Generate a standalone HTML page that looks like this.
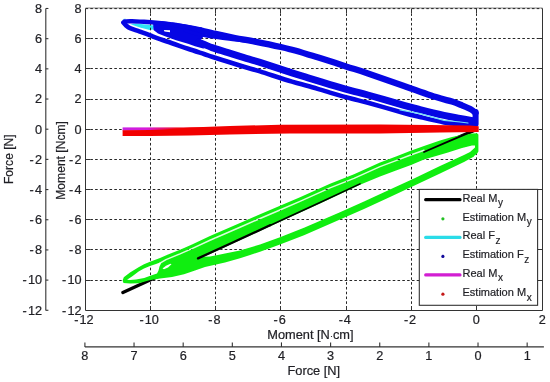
<!DOCTYPE html><html><head><meta charset="utf-8"><title>Moment and force plot</title><style>html,body{margin:0;padding:0;background:#fff;overflow:hidden}svg{display:block}</style></head><body><svg width="550" height="382" viewBox="0 0 550 382" font-family='"Liberation Sans", Arial, Helvetica, sans-serif'><rect width="550" height="382" fill="#fff"/><g stroke="#262626" stroke-width="1" stroke-dasharray="2.6,2.2" fill="none"><line x1="150.50" y1="8.5" x2="150.50" y2="310.5"/><line x1="215.50" y1="8.5" x2="215.50" y2="310.5"/><line x1="280.50" y1="8.5" x2="280.50" y2="310.5"/><line x1="346.50" y1="8.5" x2="346.50" y2="310.5"/><line x1="411.50" y1="8.5" x2="411.50" y2="310.5"/><line x1="476.50" y1="8.5" x2="476.50" y2="310.5"/><line x1="85.5" y1="280.50" x2="542.5" y2="280.50"/><line x1="85.5" y1="249.50" x2="542.5" y2="249.50"/><line x1="85.5" y1="219.50" x2="542.5" y2="219.50"/><line x1="85.5" y1="189.50" x2="542.5" y2="189.50"/><line x1="85.5" y1="159.50" x2="542.5" y2="159.50"/><line x1="85.5" y1="129.50" x2="542.5" y2="129.50"/><line x1="85.5" y1="99.50" x2="542.5" y2="99.50"/><line x1="85.5" y1="68.50" x2="542.5" y2="68.50"/><line x1="85.5" y1="38.50" x2="542.5" y2="38.50"/></g><g><polyline points="122.9,292.5 350.0,188.0 420.0,153.6 448.0,141.7 476.4,129.6" fill="none" stroke="#000" stroke-width="3.3" stroke-linejoin="round" stroke-linecap="round" /><polygon points="122.6,280.6 123.8,277.2 130.0,272.6 139.0,267.0 144.0,264.2 150.0,261.8 160.0,258.0 168.0,254.5 180.0,249.7 192.0,244.4 210.0,236.0 240.0,223.0 256.0,216.0 280.0,205.8 300.0,197.2 330.0,183.7 354.0,174.2 380.0,162.4 396.0,156.4 410.0,151.0 424.0,146.0 440.0,140.6 452.0,137.0 464.0,134.4 472.0,133.4 477.0,133.2 478.4,134.5 478.4,151.5 477.0,153.8 474.0,156.0 474.0,156.5 464.0,162.0 440.0,173.4 414.0,185.8 390.0,197.0 364.0,208.9 340.0,219.6 304.0,235.2 280.0,244.6 260.0,251.8 240.0,258.3 225.0,262.5 205.0,267.0 195.0,270.5 184.0,274.3 172.0,277.0 160.0,278.4 149.4,280.3 139.0,283.2 130.0,283.5 123.5,283.0" fill="#10ee10" /><polygon points="203.0,256.8 210.0,254.0 230.0,244.8 250.0,235.6 280.0,221.8 320.0,203.4 360.0,184.7 380.0,176.5 396.0,170.5 411.0,165.0 424.0,159.5 448.0,152.5 462.0,148.0 472.0,145.5 475.0,145.5 475.0,147.5 470.0,152.0 464.0,155.0 440.0,166.0 414.0,178.4 390.0,189.6 364.0,201.5 340.0,212.2 304.0,227.8 280.0,237.2 260.0,244.5 240.0,250.5 225.0,253.6 210.0,256.6" fill="#fff" /><polygon points="127.0,279.8 132.0,276.4 139.0,271.2 144.0,268.4 150.0,266.0 156.0,264.0 160.0,262.6 161.0,263.6 159.5,266.5 158.5,270.5 157.0,273.4 151.0,275.6 144.2,277.9 136.0,279.4 130.0,280.1" fill="#fff" /><polyline points="160.0,263.2 166.0,259.6 180.0,253.9 192.0,248.6 210.0,240.2 240.0,227.2 256.0,220.2 280.0,210.0 300.0,201.4 330.0,187.9 354.0,178.4 380.0,166.6 396.0,160.6 410.0,155.2 424.0,150.2" fill="none" stroke="#fff" stroke-width="1.5" stroke-linejoin="round" stroke-linecap="round" opacity="0.85"/><polygon points="162.5,268.5 166.0,265.8 170.5,263.8 171.5,264.2 168.0,267.5 164.0,269.2" fill="#fff" /><polyline points="198.0,258.4 230.0,243.7 270.0,225.3" fill="none" stroke="#000" stroke-width="2.3" stroke-linejoin="round" stroke-linecap="round" /><polyline points="270.0,225.6 320.0,202.6 360.0,183.9" fill="none" stroke="#000" stroke-width="1.6" stroke-linejoin="round" stroke-linecap="round" /><polyline points="424.0,152.0 448.0,141.7 476.4,129.6" fill="none" stroke="#000" stroke-width="1.8" stroke-linejoin="round" stroke-linecap="round" /><polygon points="126.5,24.4 136.5,23.4 150.0,24.2 154.5,25.0 154.5,30.5 158.5,33.4 149.6,32.6 139.8,29.2 130.0,26.0" fill="#fff" /><polygon points="130.5,24.0 136.5,23.5 150.0,25.0 154.2,25.6 153.2,29.6 149.6,29.9 140.0,27.6 134.0,25.6" fill="#2ee6f6" /><polygon points="122.4,20.6 123.8,18.8 125.8,18.6 124.4,21.2" fill="#2ee6f6" opacity="0.55"/><polygon points="153.0,21.2 160.7,20.9 170.0,22.3 185.0,24.2 195.0,26.0 202.0,27.6 203.0,37.5 199.5,40.2 204.0,48.8 195.0,46.2 188.0,43.8 176.0,40.2 165.0,36.2 158.0,33.4 153.5,30.0" fill="#0606e4" /><path d="M124.5,21.4 C125.8,21.4 128.8,21.2 132.0,21.3 C135.2,21.4 140.0,21.6 144.0,21.8 C148.0,22.0 151.7,22.2 156.0,22.6 C160.3,23.0 165.2,23.5 170.0,24.2 C174.8,24.9 180.0,25.6 185.0,26.6 C190.0,27.6 197.5,29.4 200.0,30.0" fill="none" stroke="#0606e4" stroke-width="4.4" stroke-linejoin="round" stroke-linecap="round" /><path d="M200.0,30.2 C202.6,30.8 209.8,32.6 215.6,33.9 C221.4,35.2 228.4,36.7 235.0,38.0 C241.6,39.3 247.4,40.1 255.0,41.6 C262.6,43.1 274.6,45.6 280.8,47.0 C287.0,48.4 287.5,48.6 292.0,49.8 C296.5,51.0 303.3,53.0 308.0,54.4 C312.7,55.8 313.7,56.0 320.0,58.0 C326.3,60.0 338.0,63.8 346.0,66.4 C354.0,69.0 358.3,70.1 368.0,73.4 C377.7,76.7 392.7,82.0 404.0,86.0 C415.3,90.0 428.0,94.5 436.0,97.1 C444.0,99.7 447.7,100.2 452.0,101.6 C456.3,103.0 458.8,104.1 462.0,105.4 C465.2,106.7 468.8,108.1 471.0,109.4 C473.2,110.7 474.8,112.4 475.5,113.0" fill="none" stroke="#0606e4" stroke-width="6.3" stroke-linejoin="round" stroke-linecap="round" /><path d="M185.0,30.5 C187.5,31.2 194.9,33.5 200.0,34.6 C205.1,35.8 209.8,36.5 215.6,37.4 C221.4,38.3 229.3,39.1 235.0,39.8 C240.7,40.5 245.5,41.0 250.0,41.6 C254.5,42.2 260.0,43.1 262.0,43.4" fill="none" stroke="#0606e4" stroke-width="3.2" stroke-linejoin="round" stroke-linecap="round" /><path d="M199.0,42.2 C201.2,43.1 207.2,45.9 212.0,47.6 C216.8,49.3 222.7,50.9 228.0,52.6 C233.3,54.3 238.7,56.0 244.0,57.6 C249.3,59.2 252.0,59.9 260.0,62.4 C268.0,64.9 284.0,70.2 292.0,72.8 C300.0,75.4 301.7,75.8 308.0,77.8 C314.3,79.8 322.7,82.4 330.0,84.6 C337.3,86.8 345.7,89.1 352.0,90.8 C358.3,92.5 359.3,92.6 368.0,95.0 C376.7,97.4 395.3,103.0 404.0,105.4 C412.7,107.8 413.3,107.9 420.0,109.6 C426.7,111.3 437.3,113.9 444.0,115.4 C450.7,116.9 455.0,117.5 460.0,118.4 C465.0,119.3 471.7,120.6 474.0,121.0" fill="none" stroke="#0606e4" stroke-width="7.0" stroke-linejoin="round" stroke-linecap="round" /><path d="M123.4,22.6 C123.8,23.1 124.9,24.5 126.0,25.4 C127.1,26.3 127.7,27.2 130.0,28.2 C132.3,29.2 136.5,30.4 139.8,31.6 C143.1,32.8 146.2,33.9 149.6,35.2 C153.0,36.5 156.3,37.9 160.0,39.2 C163.7,40.5 167.3,41.6 172.0,43.2 C176.7,44.8 182.7,47.0 188.0,48.8 C193.3,50.6 200.0,52.7 204.0,54.0 C208.0,55.3 208.0,55.4 212.0,56.7 C216.0,58.0 222.7,60.1 228.0,61.8 C233.3,63.5 238.7,65.2 244.0,66.8 C249.3,68.4 252.0,68.9 260.0,71.4 C268.0,73.9 284.0,79.2 292.0,81.6 C300.0,84.0 301.7,84.2 308.0,86.0 C314.3,87.8 322.7,90.5 330.0,92.6 C337.3,94.7 345.7,97.1 352.0,98.8 C358.3,100.5 359.3,100.4 368.0,102.8 C376.7,105.2 395.3,110.6 404.0,113.0 C412.7,115.4 413.3,115.4 420.0,117.0 C426.7,118.6 437.3,121.2 444.0,122.4 C450.7,123.6 455.0,123.7 460.0,124.0 C465.0,124.3 471.7,124.3 474.0,124.4" fill="none" stroke="#0606e4" stroke-width="4.6" stroke-linejoin="round" stroke-linecap="round" /><polyline points="475.6,112.0 475.6,124.0" fill="none" stroke="#0606e4" stroke-width="6.0" stroke-linejoin="round" stroke-linecap="round" /><polygon points="163.8,30.0 170.0,30.2 170.0,32.2 164.5,31.6" fill="#fff" /><polyline points="400.0,109.8 420.0,113.6 444.0,120.4 460.0,122.0 468.0,123.0" fill="none" stroke="#6fdcf8" stroke-width="1.2" stroke-linejoin="round" stroke-linecap="round" /><defs><linearGradient id="mg" gradientUnits="userSpaceOnUse" x1="122.6" y1="0" x2="176" y2="0"><stop offset="0" stop-color="#c820e4"/><stop offset="0.45" stop-color="#d81ad8"/><stop offset="1" stop-color="#f0102a"/></linearGradient></defs><rect x="122.6" y="127.4" width="353.8" height="3.2" fill="url(#mg)"/><polygon points="122.6,130.2 150.0,130.0 164.0,129.5 190.0,127.6 230.0,126.0 280.0,124.7 380.0,124.6 430.0,125.0 470.0,125.6 478.7,126.2 478.7,132.0 440.0,132.6 380.0,133.4 290.0,133.6 230.0,134.4 190.0,135.4 150.0,136.0 122.6,136.0" fill="#f20000" /></g><defs><mask id="wm" maskUnits="userSpaceOnUse" x="0" y="0" width="550" height="382"><polygon points="203.0,256.8 210.0,254.0 230.0,244.8 250.0,235.6 280.0,221.8 320.0,203.4 360.0,184.7 380.0,176.5 396.0,170.5 411.0,165.0 424.0,159.5 448.0,152.5 462.0,148.0 472.0,145.5 475.0,145.5 475.0,147.5 470.0,152.0 464.0,155.0 440.0,166.0 414.0,178.4 390.0,189.6 364.0,201.5 340.0,212.2 304.0,227.8 280.0,237.2 260.0,244.5 240.0,250.5 225.0,253.6 210.0,256.6" fill="#fff" /><polygon points="127.0,279.8 132.0,276.4 139.0,271.2 144.0,268.4 150.0,266.0 156.0,264.0 160.0,262.6 161.0,263.6 159.5,266.5 158.5,270.5 157.0,273.4 151.0,275.6 144.2,277.9 136.0,279.4 130.0,280.1" fill="#fff" /><polyline points="160.0,263.2 166.0,259.6 180.0,253.9 192.0,248.6 210.0,240.2 240.0,227.2 256.0,220.2 280.0,210.0 300.0,201.4 330.0,187.9 354.0,178.4 380.0,166.6 396.0,160.6 410.0,155.2 424.0,150.2" fill="none" stroke="#fff" stroke-width="1.5" stroke-linejoin="round" stroke-linecap="round" /><polygon points="162.5,268.5 166.0,265.8 170.5,263.8 171.5,264.2 168.0,267.5 164.0,269.2" fill="#fff" /><polygon points="126.5,24.4 136.5,23.4 150.0,24.2 154.5,25.0 154.5,30.5 158.5,33.4 149.6,32.6 139.8,29.2 130.0,26.0" fill="#fff" /></mask></defs><g mask="url(#wm)"><g stroke="#262626" stroke-width="1" stroke-dasharray="2.6,2.2" fill="none"><line x1="150.50" y1="8.5" x2="150.50" y2="310.5"/><line x1="215.50" y1="8.5" x2="215.50" y2="310.5"/><line x1="280.50" y1="8.5" x2="280.50" y2="310.5"/><line x1="346.50" y1="8.5" x2="346.50" y2="310.5"/><line x1="411.50" y1="8.5" x2="411.50" y2="310.5"/><line x1="476.50" y1="8.5" x2="476.50" y2="310.5"/><line x1="85.5" y1="280.50" x2="542.5" y2="280.50"/><line x1="85.5" y1="249.50" x2="542.5" y2="249.50"/><line x1="85.5" y1="219.50" x2="542.5" y2="219.50"/><line x1="85.5" y1="189.50" x2="542.5" y2="189.50"/><line x1="85.5" y1="159.50" x2="542.5" y2="159.50"/><line x1="85.5" y1="129.50" x2="542.5" y2="129.50"/><line x1="85.5" y1="99.50" x2="542.5" y2="99.50"/><line x1="85.5" y1="68.50" x2="542.5" y2="68.50"/><line x1="85.5" y1="38.50" x2="542.5" y2="38.50"/></g></g><g stroke="#333333" stroke-width="1" fill="none"><line x1="150.50" y1="310.5" x2="150.50" y2="306.0"/><line x1="150.50" y1="8.5" x2="150.50" y2="13.0"/><line x1="215.50" y1="310.5" x2="215.50" y2="306.0"/><line x1="215.50" y1="8.5" x2="215.50" y2="13.0"/><line x1="280.50" y1="310.5" x2="280.50" y2="306.0"/><line x1="280.50" y1="8.5" x2="280.50" y2="13.0"/><line x1="346.50" y1="310.5" x2="346.50" y2="306.0"/><line x1="346.50" y1="8.5" x2="346.50" y2="13.0"/><line x1="411.50" y1="310.5" x2="411.50" y2="306.0"/><line x1="411.50" y1="8.5" x2="411.50" y2="13.0"/><line x1="476.50" y1="310.5" x2="476.50" y2="306.0"/><line x1="476.50" y1="8.5" x2="476.50" y2="13.0"/><line x1="85.5" y1="280.50" x2="90.0" y2="280.50"/><line x1="542.5" y1="280.50" x2="538.0" y2="280.50"/><line x1="85.5" y1="249.50" x2="90.0" y2="249.50"/><line x1="542.5" y1="249.50" x2="538.0" y2="249.50"/><line x1="85.5" y1="219.50" x2="90.0" y2="219.50"/><line x1="542.5" y1="219.50" x2="538.0" y2="219.50"/><line x1="85.5" y1="189.50" x2="90.0" y2="189.50"/><line x1="542.5" y1="189.50" x2="538.0" y2="189.50"/><line x1="85.5" y1="159.50" x2="90.0" y2="159.50"/><line x1="542.5" y1="159.50" x2="538.0" y2="159.50"/><line x1="85.5" y1="129.50" x2="90.0" y2="129.50"/><line x1="542.5" y1="129.50" x2="538.0" y2="129.50"/><line x1="85.5" y1="99.50" x2="90.0" y2="99.50"/><line x1="542.5" y1="99.50" x2="538.0" y2="99.50"/><line x1="85.5" y1="68.50" x2="90.0" y2="68.50"/><line x1="542.5" y1="68.50" x2="538.0" y2="68.50"/><line x1="85.5" y1="38.50" x2="90.0" y2="38.50"/><line x1="542.5" y1="38.50" x2="538.0" y2="38.50"/><line x1="85.5" y1="8.5" x2="85.5" y2="310.5"/><line x1="542.5" y1="8.5" x2="542.5" y2="310.5"/><line x1="85.5" y1="310.5" x2="542.5" y2="310.5"/><line x1="85.5" y1="8" x2="542.5" y2="8" stroke="#8a8a8a"/><line x1="85.5" y1="8.6" x2="542.5" y2="8.6" stroke="#222" stroke-dasharray="2.6,2.2"/></g><g stroke="#333333" stroke-width="1.1" fill="none"><line x1="45.8" y1="8.5" x2="45.8" y2="310.5"/><line x1="45.8" y1="310.28" x2="48.4" y2="310.28"/><line x1="45.8" y1="280.10" x2="48.4" y2="280.10"/><line x1="45.8" y1="249.92" x2="48.4" y2="249.92"/><line x1="45.8" y1="219.74" x2="48.4" y2="219.74"/><line x1="45.8" y1="189.56" x2="48.4" y2="189.56"/><line x1="45.8" y1="159.38" x2="48.4" y2="159.38"/><line x1="45.8" y1="129.20" x2="48.4" y2="129.20"/><line x1="45.8" y1="99.02" x2="48.4" y2="99.02"/><line x1="45.8" y1="68.84" x2="48.4" y2="68.84"/><line x1="45.8" y1="38.66" x2="48.4" y2="38.66"/><line x1="45.8" y1="8.48" x2="48.4" y2="8.48"/><line x1="84.9" y1="346.9" x2="543.9" y2="346.9"/><line x1="84.90" y1="346.9" x2="84.90" y2="342.4"/><line x1="134.04" y1="346.9" x2="134.04" y2="342.4"/><line x1="183.18" y1="346.9" x2="183.18" y2="342.4"/><line x1="232.32" y1="346.9" x2="232.32" y2="342.4"/><line x1="281.46" y1="346.9" x2="281.46" y2="342.4"/><line x1="330.60" y1="346.9" x2="330.60" y2="342.4"/><line x1="379.74" y1="346.9" x2="379.74" y2="342.4"/><line x1="428.88" y1="346.9" x2="428.88" y2="342.4"/><line x1="478.02" y1="346.9" x2="478.02" y2="342.4"/><line x1="527.16" y1="346.9" x2="527.16" y2="342.4"/></g><g font-size="12.7" fill="#1f1f24" stroke="#1f1f24" stroke-width="0.22"><text x="84.00" y="323.5" text-anchor="middle">-<tspan dx="0.9">12</tspan></text><text x="149.20" y="323.5" text-anchor="middle">-<tspan dx="0.9">10</tspan></text><text x="214.40" y="323.5" text-anchor="middle">-<tspan dx="0.9">8</tspan></text><text x="279.60" y="323.5" text-anchor="middle">-<tspan dx="0.9">6</tspan></text><text x="344.80" y="323.5" text-anchor="middle">-<tspan dx="0.9">4</tspan></text><text x="410.00" y="323.5" text-anchor="middle">-<tspan dx="0.9">2</tspan></text><text x="476.40" y="323.5" text-anchor="middle">0</text><text x="542.30" y="323.5" text-anchor="middle">2</text><text x="81.5" y="314.58" text-anchor="end">-<tspan dx="1.2">12</tspan></text><text x="81.5" y="284.40" text-anchor="end">-<tspan dx="1.2">10</tspan></text><text x="81.5" y="254.22" text-anchor="end">-<tspan dx="1.2">8</tspan></text><text x="81.5" y="224.04" text-anchor="end">-<tspan dx="1.2">6</tspan></text><text x="81.5" y="193.86" text-anchor="end">-<tspan dx="1.2">4</tspan></text><text x="81.5" y="163.68" text-anchor="end">-<tspan dx="1.2">2</tspan></text><text x="81.5" y="133.50" text-anchor="end">0</text><text x="81.5" y="103.32" text-anchor="end">2</text><text x="81.5" y="73.14" text-anchor="end">4</text><text x="81.5" y="42.96" text-anchor="end">6</text><text x="81.5" y="12.78" text-anchor="end">8</text><text x="42" y="314.58" text-anchor="end">-<tspan dx="1.2">12</tspan></text><text x="42" y="284.40" text-anchor="end">-<tspan dx="1.2">10</tspan></text><text x="42" y="254.22" text-anchor="end">-<tspan dx="1.2">8</tspan></text><text x="42" y="224.04" text-anchor="end">-<tspan dx="1.2">6</tspan></text><text x="42" y="193.86" text-anchor="end">-<tspan dx="1.2">4</tspan></text><text x="42" y="163.68" text-anchor="end">-<tspan dx="1.2">2</tspan></text><text x="42" y="133.50" text-anchor="end">0</text><text x="42" y="103.32" text-anchor="end">2</text><text x="42" y="73.14" text-anchor="end">4</text><text x="42" y="42.96" text-anchor="end">6</text><text x="42" y="12.78" text-anchor="end">8</text><text x="84.90" y="360.2" text-anchor="middle">8</text><text x="134.04" y="360.2" text-anchor="middle">7</text><text x="183.18" y="360.2" text-anchor="middle">6</text><text x="232.32" y="360.2" text-anchor="middle">5</text><text x="281.46" y="360.2" text-anchor="middle">4</text><text x="330.60" y="360.2" text-anchor="middle">3</text><text x="379.74" y="360.2" text-anchor="middle">2</text><text x="428.88" y="360.2" text-anchor="middle">1</text><text x="478.02" y="360.2" text-anchor="middle">0</text><text x="527.16" y="360.2" text-anchor="middle">1</text></g><g font-size="12.8" fill="#1f1f24" stroke="#1f1f24" stroke-width="0.22"><text x="310.4" y="339.0" text-anchor="middle">Moment [N<tspan font-size="9">·</tspan>cm]</text><text x="313.8" y="375.1" text-anchor="middle">Force [N]</text><text transform="translate(64.6,160.4) rotate(-90)" text-anchor="middle" font-size="12.1">Moment [Ncm]</text><text transform="translate(13.2,159.2) rotate(-90)" text-anchor="middle" font-size="12.1">Force [N]</text></g><rect x="419.3" y="189.4" width="118.30" height="115.90" fill="#fff" stroke="#333333" stroke-width="1.1"/><line x1="425.7" y1="199.7" x2="460.0" y2="199.7" stroke="#000" stroke-width="3.2" stroke-linecap="round"/><text x="462.5" y="201.50" font-size="11" fill="#1f1f24" stroke="#1f1f24" stroke-width="0.2">Real M<tspan font-size="10" dx="0.6" dy="4.6">y</tspan></text><circle cx="442.9" cy="218.8" r="1.6" fill="#22c022"/><text x="462.5" y="220.60" font-size="11" fill="#1f1f24" stroke="#1f1f24" stroke-width="0.2">Estimation M<tspan font-size="10" dx="0.6" dy="4.6">y</tspan></text><line x1="425.7" y1="237.4" x2="460.0" y2="237.4" stroke="#2adce8" stroke-width="3.2" stroke-linecap="round"/><text x="462.5" y="239.20" font-size="11" fill="#1f1f24" stroke="#1f1f24" stroke-width="0.2">Real F<tspan font-size="10" dx="0.6" dy="4.6">z</tspan></text><circle cx="442.9" cy="256.4" r="1.6" fill="#10089a"/><text x="462.5" y="258.20" font-size="11" fill="#1f1f24" stroke="#1f1f24" stroke-width="0.2">Estimation F<tspan font-size="10" dx="0.6" dy="4.6">z</tspan></text><line x1="425.7" y1="274.9" x2="460.0" y2="274.9" stroke="#d21ed2" stroke-width="3.2" stroke-linecap="round"/><text x="462.5" y="276.70" font-size="11" fill="#1f1f24" stroke="#1f1f24" stroke-width="0.2">Real M<tspan font-size="10" dx="0.6" dy="4.6">x</tspan></text><circle cx="442.9" cy="294.2" r="1.6" fill="#c41818"/><text x="462.5" y="296.00" font-size="11" fill="#1f1f24" stroke="#1f1f24" stroke-width="0.2">Estimation M<tspan font-size="10" dx="0.6" dy="4.6">x</tspan></text></svg></body></html>
